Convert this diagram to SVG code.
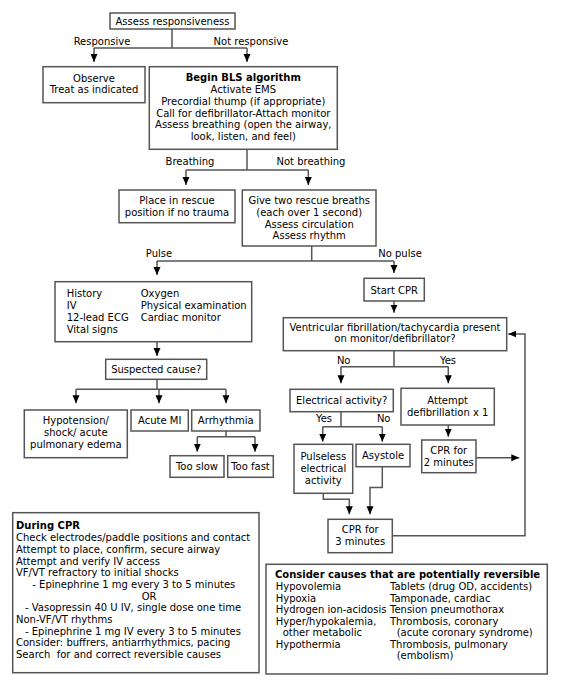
<svg xmlns="http://www.w3.org/2000/svg" width="561" height="687" viewBox="0 0 561 687">
<style>
text{font-family:"DejaVu Sans",Verdana,sans-serif;font-size:10px;fill:#000}
.c{text-anchor:middle}
.b{font-weight:bold}
rect{fill:#fff;stroke:#555;stroke-width:1.5}
.ln{fill:none;stroke:#555;stroke-width:1.5}
</style>
<defs>
<marker id="ah" markerUnits="userSpaceOnUse" markerWidth="10" markerHeight="8" refX="8" refY="3.5" orient="auto">
<path d="M0,0 L8,3.5 L0,7 z" fill="#000"/>
</marker>
</defs>
<rect width="561" height="687" style="fill:#fff;stroke:none"/>
<g id="connectors">
<path class="ln" d="M172,29 V48 M94,48 H247"/>
<path class="ln" d="M94,48 V62" marker-end="url(#ah)"/>
<path class="ln" d="M247,48 V62" marker-end="url(#ah)"/>
<path class="ln" d="M247,149.3 V170 M186,170 H308.3"/>
<path class="ln" d="M186,170 V185" marker-end="url(#ah)"/>
<path class="ln" d="M308.3,170 V185" marker-end="url(#ah)"/>
<path class="ln" d="M311.7,246 V261 M157,261 H394"/>
<path class="ln" d="M157,261 V275" marker-end="url(#ah)"/>
<path class="ln" d="M394,261 V273" marker-end="url(#ah)"/>
<path class="ln" d="M157,341.7 V356" marker-end="url(#ah)"/>
<path class="ln" d="M157,379.3 V389.3 M76,389.3 H226"/>
<path class="ln" d="M76,389.3 V403.3" marker-end="url(#ah)"/>
<path class="ln" d="M159,389.3 V403.3" marker-end="url(#ah)"/>
<path class="ln" d="M226,389.3 V403.3" marker-end="url(#ah)"/>
<path class="ln" d="M226,431 V436.7 M197.3,436.7 H255"/>
<path class="ln" d="M197.3,436.7 V451.7" marker-end="url(#ah)"/>
<path class="ln" d="M255,436.7 V451.7" marker-end="url(#ah)"/>
<path class="ln" d="M394,301 V312.7" marker-end="url(#ah)"/>
<path class="ln" d="M394,350.7 V366.7 M341,366.7 H448.3"/>
<path class="ln" d="M341,366.7 V383.3" marker-end="url(#ah)"/>
<path class="ln" d="M448.3,366.7 V383.3" marker-end="url(#ah)"/>
<path class="ln" d="M341,411.7 V426.7 M322.7,426.7 H382.3"/>
<path class="ln" d="M322.7,426.7 V441.7" marker-end="url(#ah)"/>
<path class="ln" d="M382.3,426.7 V441.7" marker-end="url(#ah)"/>
<path class="ln" d="M448.3,425 V436.7" marker-end="url(#ah)"/>
<path class="ln" d="M476,457.7 H519.3" marker-end="url(#ah)"/>
<path class="ln" d="M323.3,493.3 V499.3 H349.3 V514.3" marker-end="url(#ah)"/>
<path class="ln" d="M382.3,466.7 V487.5 H370 V514.3" marker-end="url(#ah)"/>
<path class="ln" d="M392.3,535.7 H525 V334 H508.3" marker-end="url(#ah)"/>
<text class="c" x="102" y="45">Responsive</text>
<text class="c" x="251" y="45">Not responsive</text>
<text class="c" x="190" y="165">Breathing</text>
<text class="c" x="311" y="165">Not breathing</text>
<text class="c" x="159" y="257">Pulse</text>
<text class="c" x="400" y="257">No pulse</text>
<text class="c" x="343.7" y="364">No</text>
<text class="c" x="448" y="364">Yes</text>
<text class="c" x="324" y="422.3">Yes</text>
<text class="c" x="383.7" y="422.3">No</text>
</g>
<g id="assess">
<rect x="110" y="13" width="125" height="16"/>
<text class="c" x="172.5" y="24.7">Assess responsiveness</text>
</g>
<g id="observe">
<rect x="43" y="66.7" width="102" height="36"/>
<text class="c" x="94" y="81.7">Observe</text>
<text class="c" x="94" y="93.3">Treat as indicated</text>
</g>
<g id="bls">
<rect x="149.3" y="66.7" width="188" height="82.6"/>
<text class="c b" x="243.3" y="80.7">Begin BLS algorithm</text>
<text class="c" x="243.3" y="92.7">Activate EMS</text>
<text class="c" x="243.3" y="104.7">Precordial thump (if appropriate)</text>
<text class="c" x="243.3" y="116.5">Call for defibrillator-Attach monitor</text>
<text class="c" x="243.3" y="128.3">Assess breathing (open the airway,</text>
<text class="c" x="243.3" y="140.2">look, listen, and feel)</text>
</g>
<g id="rescue-position">
<rect x="119" y="190" width="116" height="32.7"/>
<text class="c" x="177" y="204.3">Place in rescue</text>
<text class="c" x="177" y="216">position if no trauma</text>
</g>
<g id="rescue-breaths">
<rect x="242.3" y="190" width="133.7" height="56"/>
<text class="c" x="309.2" y="204.3">Give two rescue breaths</text>
<text class="c" x="309.2" y="216">(each over 1 second)</text>
<text class="c" x="309.2" y="227.6">Assess circulation</text>
<text class="c" x="309.2" y="239.2">Assess rhythm</text>
</g>
<g id="history">
<rect x="55" y="281.7" width="196.7" height="60"/>
<text x="66.7" y="296.7">History</text>
<text x="66.7" y="308.7">IV</text>
<text x="66.7" y="320.7">12-lead ECG</text>
<text x="66.7" y="332.7">Vital signs</text>
<text x="140.7" y="296.7">Oxygen</text>
<text x="140.7" y="308.7">Physical examination</text>
<text x="140.7" y="320.7">Cardiac monitor</text>
</g>
<g id="suspected">
<rect x="105.7" y="359.3" width="101" height="20"/>
<text class="c" x="156.2" y="373">Suspected cause?</text>
</g>
<g id="hypotension">
<rect x="24.3" y="410" width="103" height="47.7"/>
<text class="c" x="75.8" y="424.3">Hypotension/</text>
<text class="c" x="75.8" y="436">shock/ acute</text>
<text class="c" x="75.8" y="447.7">pulmonary edema</text>
</g>
<g id="acute-mi">
<rect x="131" y="410" width="57.3" height="21"/>
<text class="c" x="159.7" y="423.5">Acute MI</text>
</g>
<g id="arrhythmia">
<rect x="191.7" y="410" width="68.3" height="21"/>
<text class="c" x="225.8" y="423.5">Arrhythmia</text>
</g>
<g id="too-slow">
<rect x="170" y="455.7" width="54" height="21.6"/>
<text class="c" x="197" y="469.5">Too slow</text>
</g>
<g id="too-fast">
<rect x="227.7" y="455.7" width="45.6" height="21.6"/>
<text class="c" x="250.5" y="469.5">Too fast</text>
</g>
<g id="start-cpr">
<rect x="364" y="278.3" width="60.3" height="22.7"/>
<text class="c" x="394.2" y="293.5">Start CPR</text>
</g>
<g id="vf">
<rect x="283.3" y="317.7" width="223.4" height="33"/>
<text class="c" x="395" y="330.7">Ventricular fibrillation/tachycardia present</text>
<text class="c" x="395" y="342.3">on monitor/defibrillator?</text>
</g>
<g id="electrical">
<rect x="290" y="389.3" width="103.3" height="22.4"/>
<text class="c" x="341.7" y="403.5">Electrical activity?</text>
</g>
<g id="attempt-defib">
<rect x="401" y="388.3" width="93.3" height="36.7"/>
<text class="c" x="447.7" y="404.3">Attempt</text>
<text class="c" x="447.7" y="416">defibrillation x 1</text>
</g>
<g id="pulseless">
<rect x="294" y="444.3" width="58.7" height="49"/>
<text class="c" x="323.3" y="460">Pulseless</text>
<text class="c" x="323.3" y="472">electrical</text>
<text class="c" x="323.3" y="484">activity</text>
</g>
<g id="asystole">
<rect x="356" y="444.3" width="54" height="22.4"/>
<text class="c" x="383" y="459.3">Asystole</text>
</g>
<g id="cpr-2">
<rect x="421.7" y="440" width="54.3" height="32.7"/>
<text class="c" x="448.8" y="454">CPR for</text>
<text class="c" x="448.8" y="465.7">2 minutes</text>
</g>
<g id="cpr-3">
<rect x="328" y="519.3" width="64.3" height="33.4"/>
<text class="c" x="360.2" y="533.3">CPR for</text>
<text class="c" x="360.2" y="545">3 minutes</text>
</g>
<g id="during-cpr">
<rect x="12.7" y="512.7" width="246.3" height="160"/>
<text class="b" x="16" y="529.3">During CPR</text>
<text x="16" y="541.2">Check electrodes/paddle positions and contact</text>
<text x="16" y="552.8">Attempt to place, confirm, secure airway</text>
<text x="16" y="564.5">Attempt and verify IV access</text>
<text x="16" y="576.2">VF/VT refractory to initial shocks</text>
<text x="32.3" y="587.9">- Epinephrine 1 mg every 3 to 5 minutes</text>
<text x="141.7" y="599.6">OR</text>
<text x="25" y="611.3">- Vasopressin 40 U IV, single dose one time</text>
<text x="16" y="623">Non-VF/VT rhythms</text>
<text x="25" y="634.7">- Epinephrine 1 mg IV every 3 to 5 minutes</text>
<text x="16" y="646.4">Consider: buffrers, antiarrhythmics, pacing</text>
<text x="16" y="658.1" xml:space="preserve">Search  for and correct reversible causes</text>
</g>
<g id="reversible-causes">
<rect x="266" y="564.3" width="281.3" height="109.7"/>
<text class="b" x="275" y="578.3">Consider causes that are potentially reversible</text>
<text x="275.7" y="590">Hypovolemia</text>
<text x="275.7" y="601.5">Hypoxia</text>
<text x="275.7" y="613">Hydrogen ion-acidosis</text>
<text x="275.7" y="624.5">Hyper/hypokalemia,</text>
<text x="282.7" y="636">other metabolic</text>
<text x="275.7" y="647.5">Hypothermia</text>
<text x="390" y="590">Tablets (drug OD, accidents)</text>
<text x="390" y="601.5">Tamponade, cardiac</text>
<text x="390" y="613">Tension pneumothorax</text>
<text x="390" y="624.5">Thrombosis, coronary</text>
<text x="396.7" y="636">(acute coronary syndrome)</text>
<text x="390" y="647.5">Thrombosis, pulmonary</text>
<text x="396.7" y="659.2">(embolism)</text>
</g>
</svg>
